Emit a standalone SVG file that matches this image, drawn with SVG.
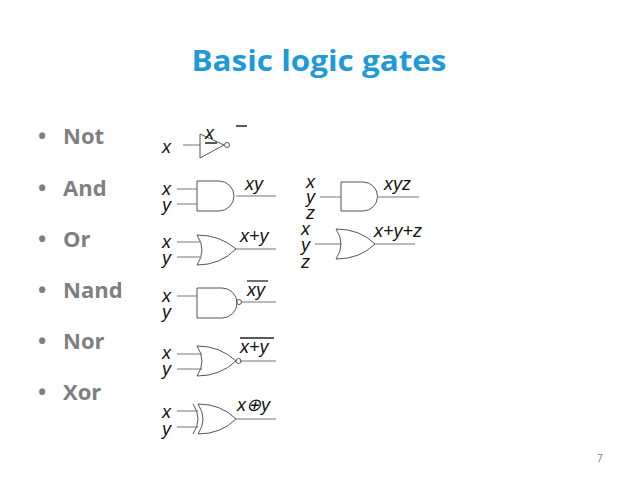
<svg xmlns="http://www.w3.org/2000/svg" width="638" height="478" viewBox="0 0 638 478">
<style>
.g{fill:none;stroke:#555;stroke-width:1}
.w{fill:none;stroke:#777;stroke-width:1.2}
.o{fill:none;stroke:#222;stroke-width:1.3}
.l{font-family:"Liberation Sans",Arial,sans-serif;font-style:italic;font-size:18px;fill:#111}
.b{font-family:"Open Sans","Liberation Sans",sans-serif;font-weight:bold;font-size:22px;fill:#7f7f7f}
</style>
<rect width="638" height="478" fill="#fff"/>
<text x="319" y="71" text-anchor="middle" font-family="Open Sans, Liberation Sans, sans-serif" font-weight="bold" font-size="29" fill="#1f9ad6" textLength="255" lengthAdjust="spacingAndGlyphs">Basic logic gates</text>
<g id="bullets" class="b">
<text x="38" y="144">•</text><text x="63" y="144">Not</text>
<text x="38" y="196">•</text><text x="63" y="196">And</text>
<text x="38" y="247">•</text><text x="63" y="247">Or</text>
<text x="38" y="298">•</text><text x="63" y="298">Nand</text>
<text x="38" y="349">•</text><text x="63" y="349">Nor</text>
<text x="38" y="400">•</text><text x="63" y="400">Xor</text>
</g>
<g id="connectors">
<path class="w" d="M183 145H200M177 189H197M177 204H197M236 196H276M320 197H341M378 197H419M177 242H200M177 257H200M236 249H276M315 244H341M375 244H415M177 296H197M241 302H276M177 354H202M177 369H202M240 361H276M177 411H198M177 427H198M236 419H276"/>
</g>
<g id="not"><path class="g" d="M200 134L224 145L200 158Z"/><circle class="g" cx="227" cy="145" r="2.5"/>
<text class="l" x="162" y="153">x</text><text class="l" x="205" y="139">x</text><path class="o" d="M205 143H217M236 126H247"/></g>
<g id="and2"><path class="g" d="M197 181H219A15 15 0 0 1 219 211H197Z"/>
<text class="l" x="162" y="195">x</text><text class="l" x="162" y="211">y</text><text class="l" x="245" y="190">xy</text></g>
<g id="and3"><path class="g" d="M341 182H363A14.5 14.5 0 0 1 363 211H341Z"/>
<text class="l" x="306" y="188">x</text><text class="l" x="306" y="203">y</text><text class="l" x="306" y="219">z</text><text class="l" x="384" y="190">xyz</text></g>
<g id="or2"><path class="g" d="M197 235Q220 235 236 249Q220 265 197 265Q207 250 197 235Z"/>
<text class="l" x="162" y="248">x</text><text class="l" x="162" y="264">y</text><text class="l" x="240" y="242">x+y</text></g>
<g id="or3"><path class="g" d="M336 229Q360 229 375 244Q360 259 336 259Q346 244 336 229Z"/>
<text class="l" x="301" y="235">x</text><text class="l" x="301" y="251">y</text><text class="l" x="301" y="268">z</text><text class="l" x="374" y="237">x+y+z</text></g>
<g id="nand"><path class="g" d="M197 288H222A15 15 0 0 1 222 318H197Z"/><circle class="g" cx="239" cy="302" r="2.5"/>
<text class="l" x="162" y="302">x</text><text class="l" x="162" y="318">y</text><text class="l" x="247" y="296">xy</text><path class="o" d="M247 281H268"/></g>
<g id="nor"><path class="g" d="M197 346Q220 346 236 361Q220 376 197 376Q207 361 197 346Z"/><circle class="g" cx="238.5" cy="361" r="2.5"/>
<text class="l" x="162" y="359">x</text><text class="l" x="162" y="375">y</text><text class="l" x="240" y="353">x+y</text><path class="o" d="M240 338H274"/></g>
<g id="xor"><path class="g" d="M198 404Q221 404 236 419Q221 434 198 434Q208 419 198 404Z"/><path class="g" d="M193 404Q203 419 193 434"/>
<text class="l" x="162" y="418">x</text><text class="l" x="162" y="435">y</text><text class="l" x="237" y="411">x⊕y</text></g>
<text x="597" y="462" font-family="Open Sans, Liberation Sans, sans-serif" font-size="10" fill="#777">7</text>
</svg>
